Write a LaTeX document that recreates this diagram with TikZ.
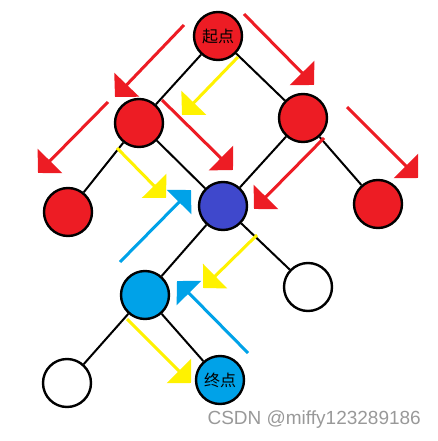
\documentclass[tikz,border=0pt]{standalone}
\usepackage{fontspec}
\setmainfont{Liberation Sans}
\newfontfamily\cjkfont{Noto Sans CJK SC}
\usetikzlibrary{arrows.meta}
\usetikzlibrary{backgrounds}
\definecolor{paintred}{HTML}{ED1C24}
\definecolor{paintyellow}{HTML}{FFF200}
\definecolor{paintblue}{HTML}{00A2E8}
\definecolor{paintindigo}{HTML}{3F48CC}
\newcommand{\noderad}{24pt}
\tikzset{
  treenode/.style={circle,draw=black,line width=2.4pt,minimum size=2*\noderad,
    inner sep=0pt,font=\cjkfont\fontsize{16}{16}\selectfont},
  treeedge/.style={line width=2pt,black},
  walk/.style={line width=3pt,-{Triangle[length=17pt,width=34pt]}}
}
\begin{document}
\begin{tikzpicture}[x=1pt,y=-1pt]
    \useasboundingbox (0,0) rectangle (437,441);

    % tree nodes
    \node (start) at (218,36) [treenode,fill=paintred] {起点};
    \node (lt) at (139,123) [treenode,fill=paintred] {};
    \node (rt) at (303,118) [treenode,fill=paintred] {};
    \node (ltl) at (68,212) [treenode,fill=paintred] {};
    \node (mid) at (223,206) [treenode,fill=paintindigo] {};
    \node (rtr) at (378,204) [treenode,fill=paintred] {};
    \node (sub) at (145,295) [treenode,fill=paintblue] {};
    \node (midr) at (308,287) [treenode,fill=white] {};
    \node (subl) at (67,383) [treenode,fill=white] {};
    \node (goal) at (220,380) [treenode,fill=paintblue] {终点};

    % edges
    \begin{scope}[on background layer]
      \draw[treeedge] (start) -- (lt);
      \draw[treeedge] (start) -- (rt);
      \draw[treeedge] (lt) -- (ltl);
      \draw[treeedge] (lt) -- (mid);
      \draw[treeedge] (rt) -- (mid);
      \draw[treeedge] (rt) -- (rtr);
      \draw[treeedge] (mid) -- (sub);
      \draw[treeedge] (mid) -- (midr);
      \draw[treeedge] (sub) -- (subl);
      \draw[treeedge] (sub) -- (goal);
    \end{scope}

    % red walk
    \foreach \xa/\ya/\xb/\yb in {184/25/115/97, 244/14/314/85, 108/102/38/173,
        162/100/233/170, 324/138/254/209, 347/107/418/178}
      \draw[walk,paintred] (\xa,\ya) -- (\xb,\yb);

    % yellow walk
    \foreach \xa/\ya/\xb/\yb in {238/57/182/115, 117/148/166/198,
        257/235/203/288, 127/319/191/383}
      \draw[walk,paintyellow] (\xa,\ya) -- (\xb,\yb);

    % blue walk
    \foreach \xa/\ya/\xb/\yb in {120/262/191/190, 248/353/177/281}
      \draw[walk,paintblue] (\xa,\ya) -- (\xb,\yb);

    % watermark
    \node (mark) at (421,420) [anchor=east,inner sep=0pt,text=black!40,
      font=\fontsize{19}{19}\selectfont] {CSDN @miffy123289186};
  \end{tikzpicture}
\end{document}
